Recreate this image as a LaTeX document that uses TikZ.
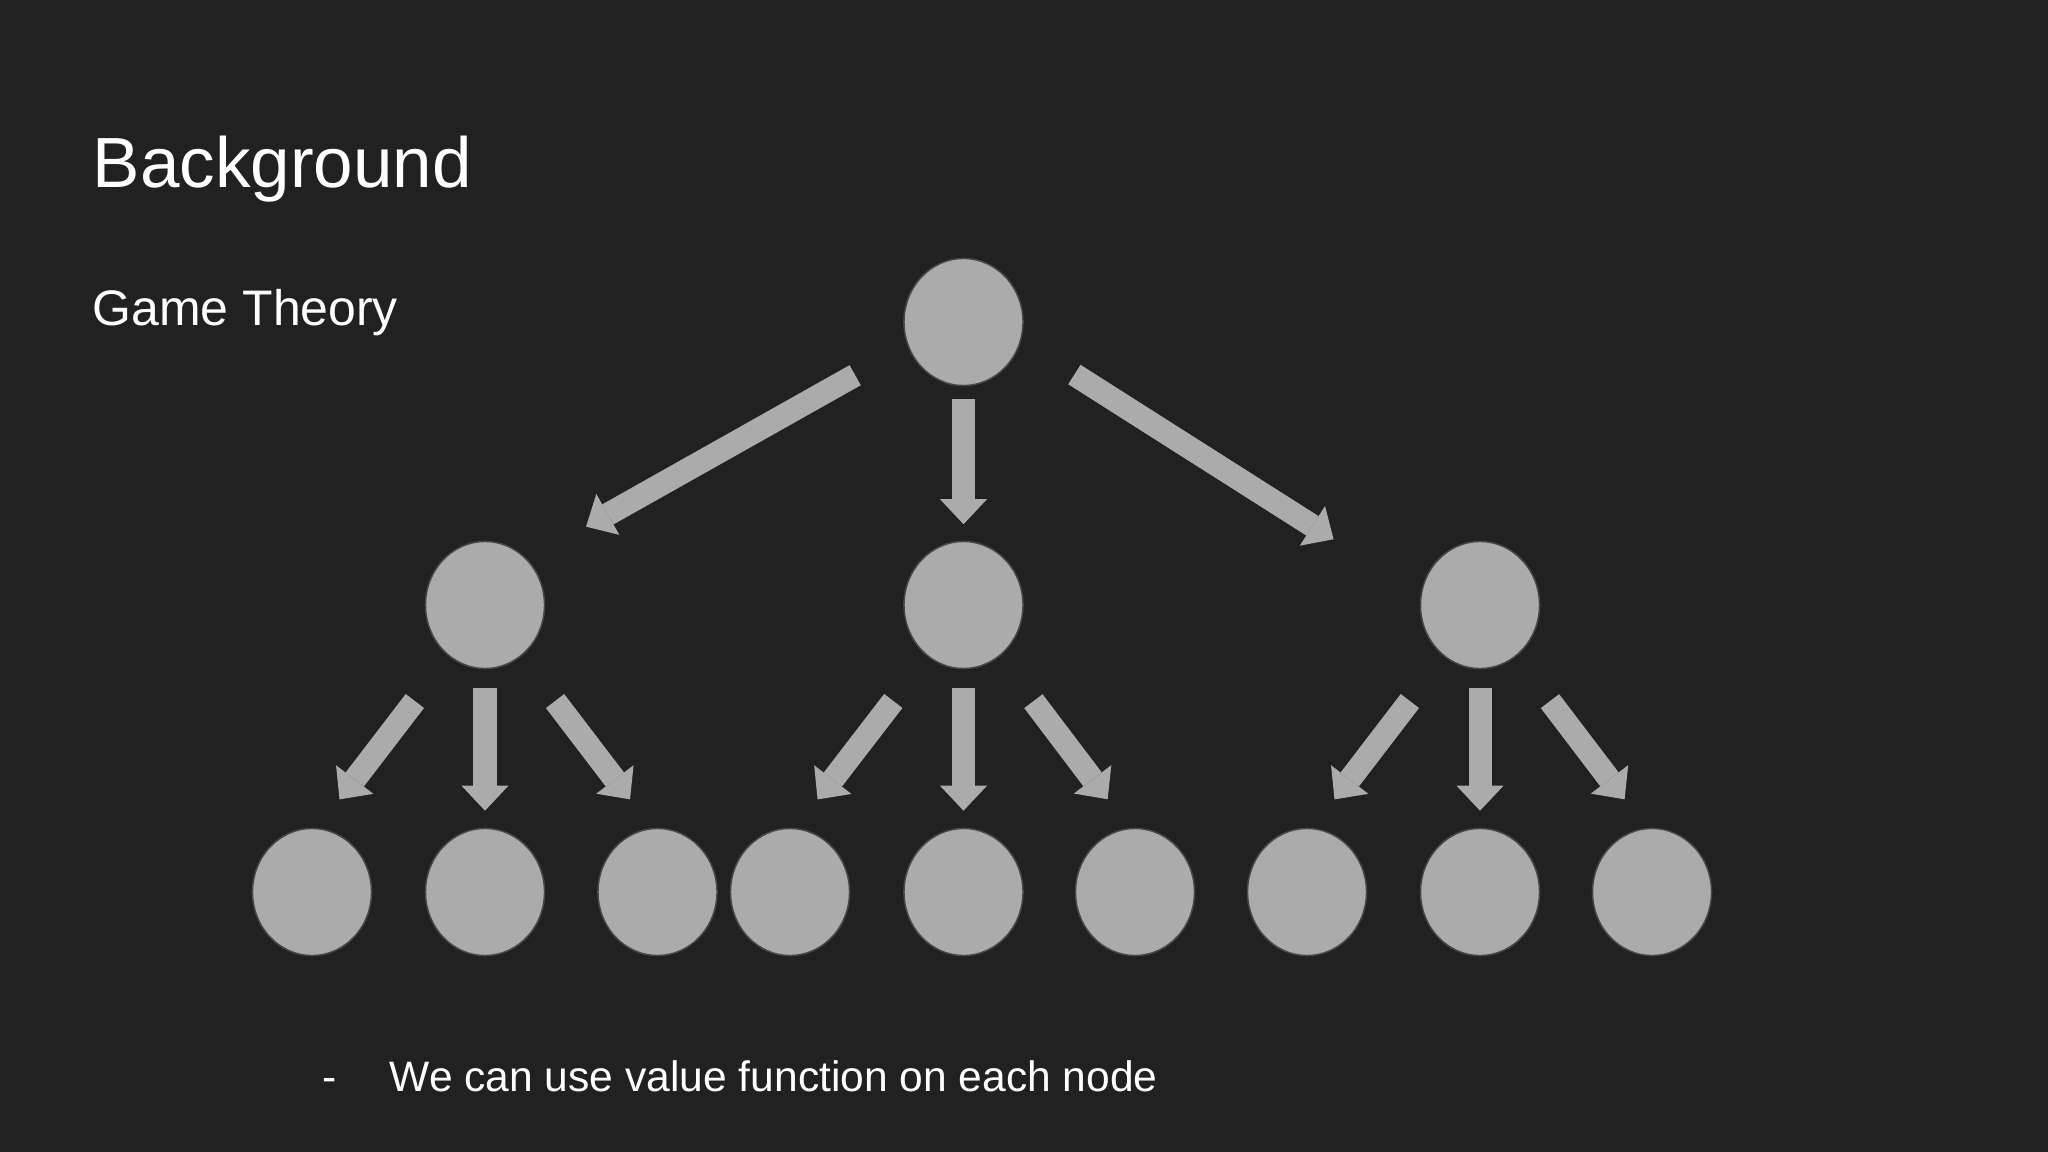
\documentclass[tikz,border=0pt]{standalone}
\usepackage{fontspec}
\setmainfont{Liberation Sans}
\usetikzlibrary{arrows.meta,shapes.geometric}
\definecolor{slidebg}{HTML}{212121}
\definecolor{nodegray}{HTML}{ABABAB}
\definecolor{nodeedge}{HTML}{474747}
\tikzset{
%Define standard arrow tip
>={Triangle[width=0.47cm,length=0.25cm,line width=0pt]},
%Define style for tree nodes and moves
gamenode/.style={ellipse, fill=nodegray, draw=nodeedge, line width=0.015cm, minimum width=1.19cm, minimum height=1.27cm, inner sep=0pt},
movearrow/.style={->, draw=nodegray, line width=0.23cm},
%Define style for slide text
slidetext/.style={text=white, inner sep=0pt, anchor=base west},
}

\begin{document}
\begin{tikzpicture}[x=0.01cm, y=-0.01cm]
    % Slide
    \fill[slidebg] (0,0) rectangle (2048,1152);
    \useasboundingbox (0,0) rectangle (2048,1152);
    \node[slidetext, font=\fontsize{20.2}{24}\selectfont] (title) at (92,188) {Background};
    \node[slidetext, font=\fontsize{14.2}{17}\selectfont] (subtitle) at (92,326) {Game Theory};
    \node[slidetext, font=\fontsize{12.1}{15}\selectfont] (bullet) at (322,1091) {-};
    \node[slidetext, font=\fontsize{12.1}{15}\selectfont] (point) at (389,1091) {We can use value function on each node};
    % Tree
    \node[gamenode] (root) at (963.5,322) {};
    \node[gamenode] (m1) at (485,605) {};
    \node[gamenode] (m2) at (963.5,605) {};
    \node[gamenode] (m3) at (1480,605) {};
    \node[gamenode] (b1) at (312,892) {};
    \node[gamenode] (b2) at (485,892) {};
    \node[gamenode] (b3) at (657.5,892) {};
    \node[gamenode] (b4) at (790,892) {};
    \node[gamenode] (b5) at (963.5,892) {};
    \node[gamenode] (b6) at (1135,892) {};
    \node[gamenode] (b7) at (1307,892) {};
    \node[gamenode] (b8) at (1480,892) {};
    \node[gamenode] (b9) at (1652,892) {};
    % Moves from the root
    \draw[movearrow, shorten <=0.60cm, shorten >=0.67cm] (root.203) -- (m1.north east);
    \draw[movearrow, shorten <=0.13cm, shorten >=0.165cm] (root.south) -- (m2.north);
    \draw[movearrow, shorten <=0.63cm, shorten >=1.03cm] (root.342) -- (m3.170);
    % Moves from the second level
    \draw[movearrow, shorten <=0.56cm, shorten >=0.36cm] (m1.235) -- (b1.85);
    \draw[movearrow, shorten <=0.19cm, shorten >=0.17cm] (m1.south) -- (b2.north);
    \draw[movearrow, shorten <=0.56cm, shorten >=0.36cm] (m1.305) -- (b3.95);
    \draw[movearrow, shorten <=0.56cm, shorten >=0.36cm] (m2.235) -- (b4.85);
    \draw[movearrow, shorten <=0.19cm, shorten >=0.17cm] (m2.south) -- (b5.north);
    \draw[movearrow, shorten <=0.56cm, shorten >=0.36cm] (m2.305) -- (b6.95);
    \draw[movearrow, shorten <=0.56cm, shorten >=0.36cm] (m3.235) -- (b7.85);
    \draw[movearrow, shorten <=0.19cm, shorten >=0.17cm] (m3.south) -- (b8.north);
    \draw[movearrow, shorten <=0.56cm, shorten >=0.36cm] (m3.305) -- (b9.95);
\end{tikzpicture}
\end{document}
